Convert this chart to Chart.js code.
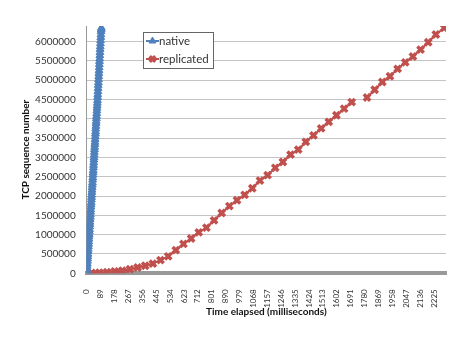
<!DOCTYPE html>
<html>
<head>
<meta charset="utf-8">
<title>TCP sequence number over time</title>
<script src="https://cdn.jsdelivr.net/npm/chart.js@4/dist/chart.umd.min.js"></script>
<style>
  html, body { margin: 0; padding: 0; background: #fff; }
  #seqChart { display: block; }
</style>
</head>
<body>
<canvas id="seqChart" width="474" height="339"></canvas>
<script>
// time (ms) and sequence number samples
const nativeTimes = [0, 1, 2, 3, 4, 5, 6, 7, 8, 9, 10, 11, 12, 13, 14, 15, 16, 17, 18, 19,
  20, 21, 22, 23, 24, 25, 26, 27, 28, 29, 30, 31, 32, 33, 34, 35, 36, 37, 38, 39,
  40, 41, 42, 43, 44, 45, 46, 47, 48, 49, 50, 51, 52, 53, 54, 55, 56, 57, 58, 59,
  60, 61, 62, 63, 64, 65, 66, 67, 68, 69, 70, 71, 72, 73, 74, 75, 76, 77, 78, 79,
  80, 81, 82, 83, 84, 85, 86, 87, 88, 89, 90, 91, 92, 93, 94];
const nativeSeq = [0, 60000, 120000, 190000, 250000, 320000, 380000, 440000, 500000, 570000,
  630000, 700000, 760000, 820000, 890000, 950000, 1010000, 1080000, 1140000, 1210000,
  1270000, 1330000, 1400000, 1460000, 1520000, 1590000, 1650000, 1720000, 1780000, 1840000,
  1910000, 1970000, 2030000, 2100000, 2160000, 2230000, 2290000, 2350000, 2420000, 2480000,
  2550000, 2610000, 2670000, 2740000, 2800000, 2870000, 2940000, 3000000, 3070000, 3140000,
  3210000, 3270000, 3340000, 3400000, 3470000, 3540000, 3610000, 3670000, 3740000, 3810000,
  3880000, 3940000, 4010000, 4070000, 4140000, 4210000, 4280000, 4340000, 4410000, 4480000,
  4560000, 4630000, 4710000, 4790000, 4870000, 4940000, 5020000, 5100000, 5180000, 5250000,
  5330000, 5410000, 5490000, 5560000, 5640000, 5720000, 5800000, 5870000, 5950000, 6030000,
  6110000, 6180000, 6260000, 6310000, 6350000];

const replicatedTimes = [32, 81, 130, 179, 228, 277, 326, 375, 424, 473, 522, 571, 620, 669, 718,
  767, 816, 865, 914, 963, 1012, 1061, 1110, 1159, 1208, 1257, 1306, 1355, 1404, 1453,
  1502, 1551, 1600, 1649, 1698, 1747, 1796, 1845, 1894, 1943, 1992, 2041, 2090, 2139,
  2188, 2237, 2290];
const replicatedSeq = [10000, 15000, 30000, 50000, 65000, 105000, 150000, 195000, 250000, 340000,
  440000, 600000, 760000, 900000, 1060000, 1180000, 1370000, 1560000, 1740000, 1890000,
  2030000, 2200000, 2400000, 2540000, 2730000, 2880000, 3070000, 3200000, 3400000, 3570000,
  3750000, 3920000, 4090000, 4260000, 4430000, null, 4550000, 4750000, 4950000, 5100000,
  5290000, 5460000, 5610000, 5790000, 5980000, 6180000, 6350000];

const timeStep = 89;     // spacing of the time labels
const timeMax = 2302;
const seqStep = 500000;
const seqMax = 6400000;

const FONT = 'Lato, "Liberation Sans", sans-serif';
const BLUE = '#4F81BD';
const RED = '#C0504D';

const toPoints = (xs, ys) => xs.map((x, i) => ({ x, y: ys[i] }));
const onStep = (v, step) => Math.abs(v / step - Math.round(v / step)) < 1e-6;

// legend box drawn inside the plot, line sample + marker per series
const boxLegend = {
  id: 'boxLegend',
  afterDraw(chart) {
    const ctx = chart.ctx;
    const x0 = 143, y0 = 32, w = 70, h = 36;
    ctx.save();
    ctx.fillStyle = '#fff';
    ctx.fillRect(x0, y0, w, h);
    ctx.strokeStyle = '#666';
    ctx.lineWidth = 1;
    ctx.strokeRect(x0 + 0.5, y0 + 0.5, w, h);
    ctx.font = '11.5px ' + FONT;
    ctx.textBaseline = 'middle';
    chart.data.datasets.forEach((ds, i) => {
      const y = y0 + 9 + i * 18;
      ctx.strokeStyle = ds.borderColor;
      ctx.fillStyle = ds.pointBackgroundColor;
      ctx.lineWidth = 2;
      ctx.beginPath();
      ctx.moveTo(x0 + 3, y);
      ctx.lineTo(x0 + 16, y);
      ctx.stroke();
      ctx.lineWidth = ds.pointBorderWidth;
      Chart.helpers.drawPoint(ctx, {
        pointStyle: ds.pointStyle,
        radius: ds.pointRadius - 0.5,
        borderWidth: ds.pointBorderWidth,
        rotation: 0
      }, x0 + 9.5, y);
      ctx.fillStyle = '#333';
      ctx.fillText(ds.label, x0 + 16, y);
    });
    ctx.restore();
  }
};

new Chart(document.getElementById('seqChart'), {
  type: 'line',
  data: {
    datasets: [
      {
        label: 'native',
        data: toPoints(nativeTimes, nativeSeq),
        borderColor: BLUE,
        backgroundColor: BLUE,
        borderWidth: 2,
        pointStyle: 'triangle',
        pointRadius: 4.5,
        pointBorderWidth: 1,
        pointBackgroundColor: BLUE,
        pointBorderColor: BLUE
      },
      {
        label: 'replicated',
        data: toPoints(replicatedTimes, replicatedSeq),
        borderColor: RED,
        backgroundColor: RED,
        borderWidth: 2,
        spanGaps: false,
        pointStyle: 'crossRot',
        pointRadius: 4.5,
        pointBorderWidth: 3.5,
        pointBackgroundColor: RED,
        pointBorderColor: RED
      }
    ]
  },
  options: {
    responsive: false,
    animation: false,
    devicePixelRatio: 1,
    layout: { padding: { top: 26, right: 28, left: 0, bottom: 0 } },
    plugins: {
      legend: { display: false },
      tooltip: { enabled: false }
    },
    scales: {
      x: {
        type: 'linear',
        min: 0,
        max: timeMax,
        grid: { display: false },
        border: { color: '#999', width: 4 },
        ticks: {
          stepSize: timeStep,
          autoSkip: false,
          minRotation: 90,
          maxRotation: 90,
          padding: 8,
          color: '#333',
          font: { family: FONT, size: 8 },
          callback: v => String(v)
        },
        afterBuildTicks: axis => {
          axis.ticks = axis.ticks.filter(t => onStep(t.value, timeStep));
        },
        afterFit: axis => { axis.height = 65.7; },
        title: {
          display: true,
          text: 'Time elapsed (milliseconds)',
          color: '#111',
          font: { family: FONT, size: 10, weight: 'bold' },
          padding: { top: 0, bottom: 21 }
        }
      },
      y: {
        min: 0,
        max: seqMax,
        grid: { color: '#c4c4c4', lineWidth: 1, drawTicks: false },
        border: { color: '#999', width: 1 },
        ticks: {
          stepSize: seqStep,
          autoSkip: false,
          padding: 11,
          color: '#333',
          font: { family: FONT, size: 10 },
          callback: v => String(v)
        },
        afterBuildTicks: axis => {
          const ticks = [];
          for (let v = 0; v <= seqMax; v += seqStep) ticks.push({ value: v });
          axis.ticks = ticks;
        },
        afterFit: axis => { axis.width = 86.7; },
        title: {
          display: true,
          text: 'TCP sequence number',
          color: '#111',
          font: { family: FONT, size: 10, weight: 'bold' },
          padding: { top: 20, bottom: 0 }
        }
      }
    }
  },
  plugins: [boxLegend]
});
</script>
</body>
</html>
